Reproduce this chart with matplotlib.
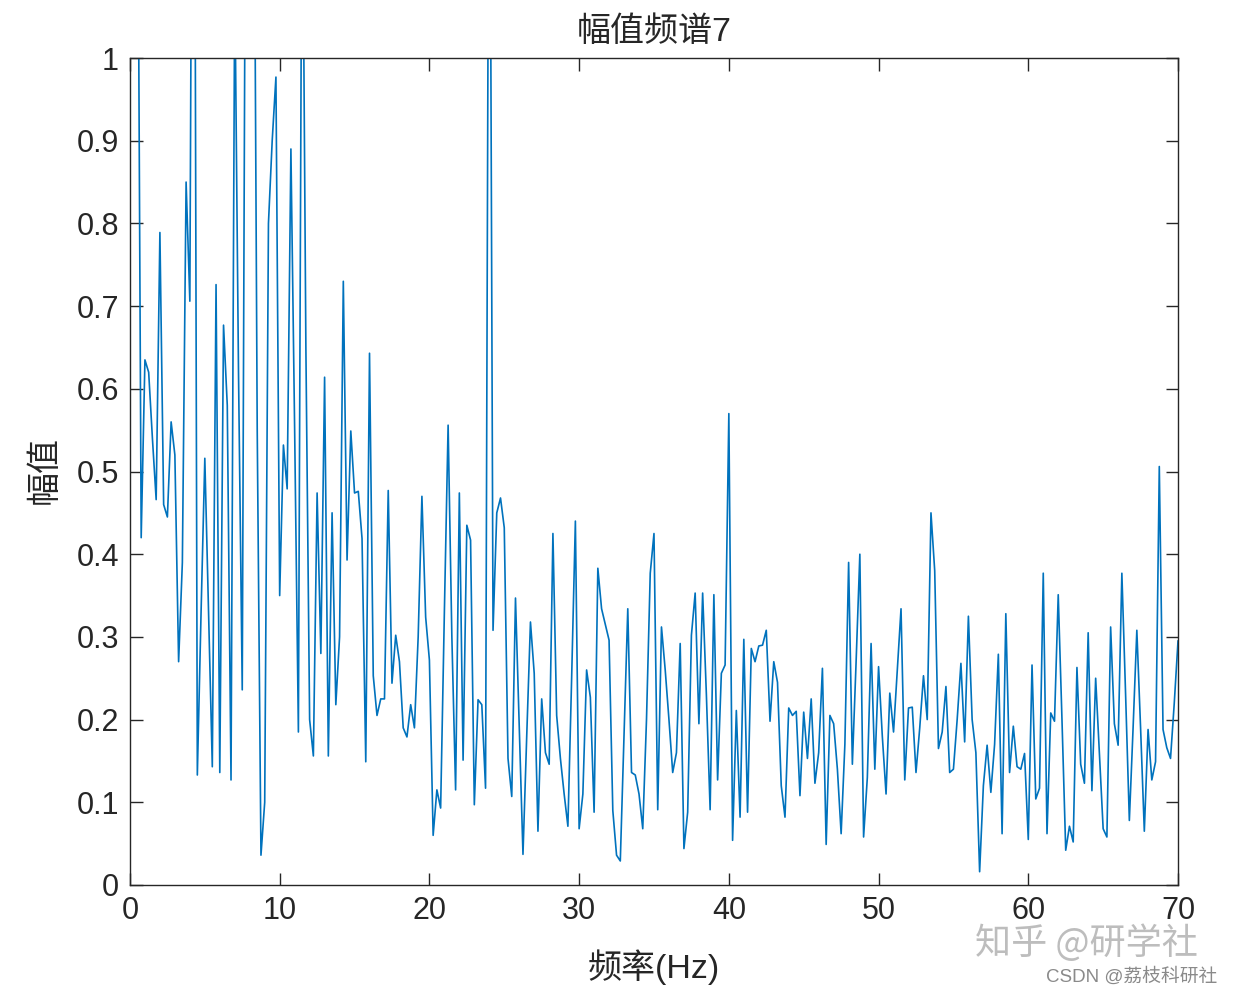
import numpy as np
import matplotlib
matplotlib.use("Agg")
import matplotlib.pyplot as plt

FONT = ["Liberation Sans", "Noto Sans CJK SC", "DejaVu Sans"]
plt.rcParams["font.family"] = FONT

TITLE = "幅值频谱7"
X_LABEL = "频率(Hz)"
Y_LABEL = "幅值"

# spectrum sampled every 0.25 Hz, 0 .. 70 Hz (one row = 2 Hz)
DF = 0.25
amp = [
    2.5, 1.9, 1.33, 0.42, 0.635, 0.62, 0.54, 0.466,
    0.789, 0.46, 0.445, 0.56, 0.52, 0.27, 0.39, 0.85,
    0.706, 1.76, 0.133, 0.33, 0.516, 0.33, 0.143, 0.726,
    0.136, 0.677, 0.58, 0.127, 1.1, 0.62, 0.236, 1.4,
    1.6, 1.4, 0.55, 0.036, 0.1, 0.8, 0.9, 0.977,
    0.35, 0.532, 0.479, 0.89, 0.55, 0.185, 1.3, 0.65,
    0.2, 0.156, 0.474, 0.28, 0.614, 0.156, 0.45, 0.218,
    0.30, 0.73, 0.393, 0.549, 0.474, 0.476, 0.419, 0.149,
    0.643, 0.253, 0.205, 0.225, 0.225, 0.477, 0.244, 0.302,
    0.27, 0.19, 0.179, 0.218, 0.19, 0.30, 0.47, 0.324,
    0.272, 0.06, 0.115, 0.093, 0.33, 0.556, 0.30, 0.115,
    0.474, 0.151, 0.435, 0.417, 0.097, 0.224, 0.218, 0.117,
    1.5, 0.308, 0.45, 0.468, 0.432, 0.153, 0.107, 0.347,
    0.19, 0.037, 0.18, 0.318, 0.256, 0.065, 0.225, 0.16,
    0.146, 0.425, 0.205, 0.153, 0.11, 0.071, 0.25, 0.44,
    0.068, 0.11, 0.26, 0.227, 0.088, 0.383, 0.334, 0.315,
    0.296, 0.09, 0.036, 0.029, 0.18, 0.334, 0.136, 0.133,
    0.11, 0.068, 0.2, 0.377, 0.425, 0.091, 0.312, 0.26,
    0.2, 0.136, 0.16, 0.292, 0.044, 0.088, 0.302, 0.353,
    0.195, 0.353, 0.23, 0.091, 0.351, 0.127, 0.256, 0.266,
    0.57, 0.054, 0.211, 0.082, 0.297, 0.088, 0.286, 0.27,
    0.289, 0.29, 0.308, 0.198, 0.27, 0.245, 0.12, 0.082,
    0.214, 0.205, 0.21, 0.108, 0.209, 0.153, 0.225, 0.123,
    0.16, 0.262, 0.049, 0.205, 0.195, 0.14, 0.062, 0.17,
    0.39, 0.146, 0.27, 0.40, 0.058, 0.13, 0.292, 0.14,
    0.264, 0.18, 0.11, 0.232, 0.185, 0.26, 0.334, 0.127,
    0.214, 0.215, 0.136, 0.19, 0.253, 0.20, 0.45, 0.38,
    0.165, 0.185, 0.24, 0.136, 0.14, 0.20, 0.268, 0.173,
    0.325, 0.20, 0.16, 0.016, 0.12, 0.169, 0.112, 0.17,
    0.279, 0.062, 0.328, 0.136, 0.192, 0.143, 0.140, 0.159,
    0.055, 0.266, 0.104, 0.117, 0.377, 0.062, 0.208, 0.198,
    0.351, 0.20, 0.042, 0.071, 0.052, 0.263, 0.146, 0.123,
    0.305, 0.114, 0.25, 0.16, 0.068, 0.058, 0.312, 0.195,
    0.169, 0.377, 0.23, 0.078, 0.19, 0.308, 0.19, 0.065,
    0.188, 0.127, 0.149, 0.506, 0.188, 0.166, 0.153, 0.22,
    0.295,
]
freq = np.arange(len(amp)) * DF

x_ticks = [0, 10, 20, 30, 40, 50, 60, 70]
y_ticks = [0, 0.1, 0.2, 0.3, 0.4, 0.5, 0.6, 0.7, 0.8, 0.9, 1]
y_tick_labels = ["0", "0.1", "0.2", "0.3", "0.4", "0.5", "0.6", "0.7", "0.8", "0.9", "1"]

TXT = "#262626"
LINE = "#0072BD"

fig = plt.figure(figsize=(12.33, 9.94), dpi=100)
ax = fig.add_axes([0.1054, 0.1097, 0.85, 0.8319])

ax.plot(freq, amp, color=LINE, lw=1.2)
ax.set_xlim(0, 70)
ax.set_ylim(0, 1)

ax.set_xticks(x_ticks)
ax.set_xticklabels([str(t) for t in x_ticks])
ax.set_yticks(y_ticks)
ax.set_yticklabels(y_tick_labels)
ax.tick_params(direction="in", length=9, width=1, colors=TXT, labelsize=22,
               top=True, right=True, pad=8)
for s in ax.spines.values():
    s.set_color(TXT)
    s.set_linewidth(1)

ax.set_title(TITLE, fontsize=24.5, color=TXT, y=1.031, va="center", pad=0)
ax.set_xlabel(X_LABEL, fontsize=24.5, color=TXT)
ax.xaxis.set_label_coords(0.5, -0.099)
ax.xaxis.label.set_va("center")
ax.set_ylabel(Y_LABEL, fontsize=24.5, color=TXT)
ax.yaxis.set_label_coords(-0.081, 0.502)
ax.yaxis.label.set_va("center")

# watermarks
fig.text(0.881, 0.0513, "知乎 @研学社", fontsize=26, color="#bdbdbd",
         ha="center", va="center", family=["Noto Sans CJK SC", "DejaVu Sans"])
fig.text(0.918, 0.018, "CSDN @荔枝科研社", fontsize=13.5, color="#8a8a8a",
         ha="center", va="center", family=["Liberation Sans", "Noto Sans CJK SC"])

fig.savefig("out.png", dpi=100)
